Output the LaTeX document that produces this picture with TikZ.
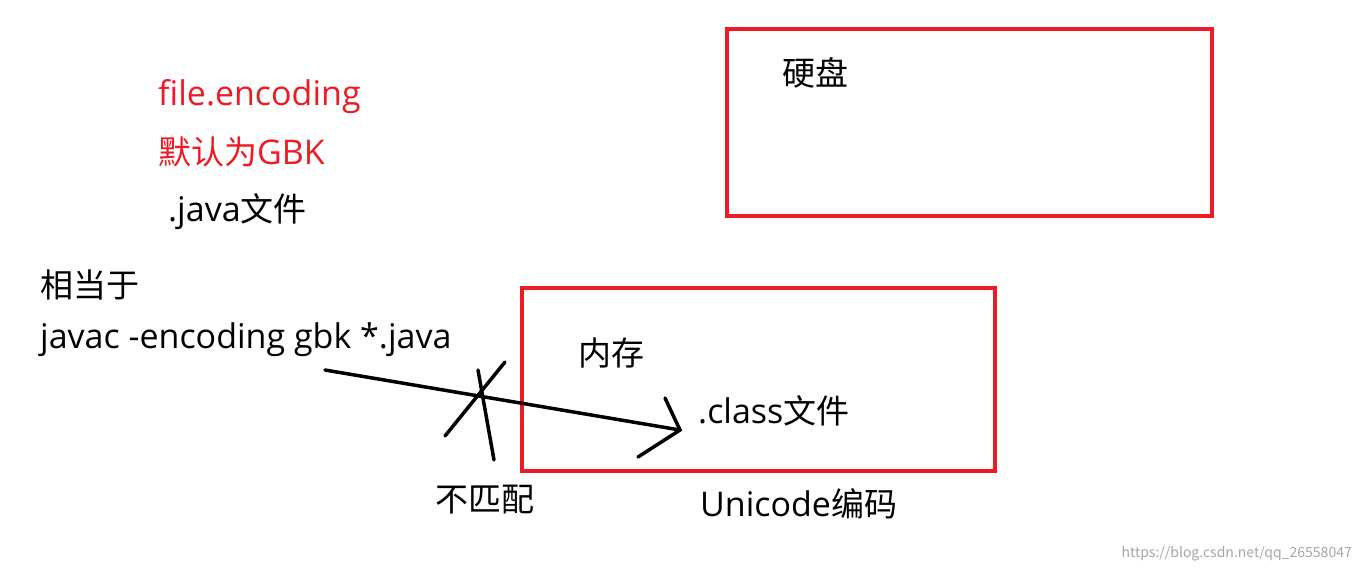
\documentclass[tikz,border=0pt]{standalone}
\usepackage{fontspec}
\setmainfont{Noto Sans CJK SC}
\newfontfamily\latfont{Open Sans}
\newcommand{\lat}[1]{{\latfont\fontsize{34}{38}\selectfont #1}}
\definecolor{boxred}{RGB}{237,28,36}
\tikzset{
  lbl/.style={anchor=west,inner sep=0pt,font=\fontsize{33}{38}\selectfont},
  redlbl/.style={lbl,text=boxred},
  frame/.style={draw=boxred,line width=4pt},
  pen/.style={draw=black,line width=3.5pt,line cap=round}
}
\begin{document}
\begin{tikzpicture}[x=1pt,y=-1pt]
  \useasboundingbox[fill=white] (0,0) rectangle (1361,573);
  % boxes
  \draw[frame] (727,29) rectangle (1212,216);
  \draw[frame] (522,288) rectangle (995,471);

  \node[redlbl] (enc) at (158,97) {\lat{file.encoding}};
  \node[redlbl] (gbk) at (158,152) {默认为\lat{GBK}};
  \node[lbl] (jf) at (168,212) {\lat{.java}文件};
  \node[lbl] (eq) at (40,285) {相当于};
  \node[lbl] (cmd) at (40,340) {\lat{javac -encoding gbk *.java}};
  \node[lbl] (disk) at (782,73) {硬盘};
  \node[lbl] (mem) at (578,353) {内存};
  \node[lbl] (cf) at (698,411) {\lat{.class}文件};
  \node[lbl] (nm) at (435,500) {不匹配};
  \node[lbl] (uni) at (700,504) {\lat{Unicode}编码};
  \node[anchor=east,inner sep=0pt,text=black!35,font=\fontsize{14}{16}\selectfont] (wm) at (1352,554) {https://blog.csdn.net/qq\_26558047};

  % arrow
  \coordinate (a0) at (325,370);
  \coordinate (a1) at (680,430);
  \coordinate (h1) at (665,398);
  \coordinate (h2) at (638,457);
  \draw[pen] (a0) -- (a1);
  \draw[pen] (h1) -- (a1) -- (h2);
  % cross
  \coordinate (c1) at (445,436);
  \coordinate (c2) at (505,362);
  \coordinate (c3) at (478,370);
  \coordinate (c4) at (494,460);
  \draw[pen] (c1) -- (c2);
  \draw[pen] (c3) -- (c4);
\end{tikzpicture}
\end{document}
